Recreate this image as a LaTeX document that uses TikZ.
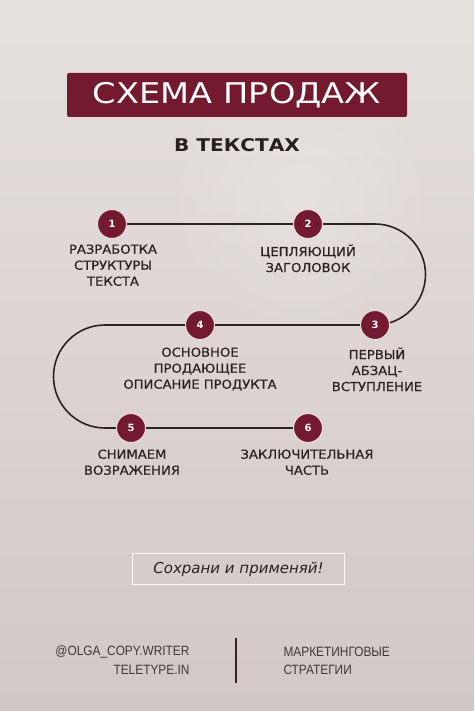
\documentclass[tikz,border=0pt]{standalone}
\usepackage{fontspec}
\setmainfont{DejaVu Sans}
\newfontfamily\titlefont[FakeStretch=1.18]{DejaVu Sans}
\newfontfamily\subfont[FakeStretch=1.15]{DejaVu Sans}
\newfontfamily\labfont[FakeStretch=1.06,FakeBold=0.6]{DejaVu Sans}
\newfontfamily\footfont[FakeStretch=0.88]{Liberation Sans}
\usetikzlibrary{backgrounds}
\definecolor{maroon}{HTML}{731A2E}
\definecolor{ink}{HTML}{2B2322}
\definecolor{bgtop}{HTML}{E6E1DE}
\definecolor{bgbot}{HTML}{D2C8C5}
\definecolor{rimc}{HTML}{F3DCDD}
\pgfdeclarelayer{bglayer}
\pgfsetlayers{bglayer,background,main}
\tikzset{
  stepcirc/.style={circle,fill=maroon,draw=rimc,line width=1pt,minimum size=29pt,inner sep=0pt,text=white,font=\bfseries\fontsize{10}{10}\selectfont},
  steplabel/.style={align=center,text=ink,font=\labfont\fontsize{12.4}{16}\selectfont,anchor=north},
  pathline/.style={draw=ink,line width=1.6pt},
  footer/.style={text=ink!90,font=\footfont\fontsize{13.5}{18}\selectfont}
}
\begin{document}
\begin{tikzpicture}[x=1pt,y=-1pt]
\begin{pgfonlayer}{bglayer}
\shade[top color=bgtop,bottom color=bgbot] (0,0) rectangle (474,711);
\shade[inner color=white,outer color=bgtop,opacity=0.18] (300,200) circle (120);
\end{pgfonlayer}
\useasboundingbox (0,0) rectangle (474,711);
% title
\node[fill=maroon,rounded corners=2pt,minimum width=340pt,minimum height=44pt,text=white,font=\titlefont\fontsize{28.5}{30}\selectfont] (title) at (237,95) {СХЕМА ПРОДАЖ};
\node[text=ink!90!black,font=\subfont\bfseries\fontsize{17.5}{20}\selectfont] (sub) at (237,145) {В ТЕКСТАХ};
% steps
\node[stepcirc] (c1) at (112,224) {1};
\node[stepcirc] (c2) at (308,224) {2};
\node[stepcirc] (c3) at (375,325) {3};
\node[stepcirc] (c4) at (200,325) {4};
\node[stepcirc] (c5) at (131,428) {5};
\node[stepcirc] (c6) at (308,428) {6};
\coordinate (r1) at (375,224);
\coordinate (l1) at (105,325);
\begin{pgfonlayer}{background}
\draw[pathline] (c1) -- (c2) -- (r1) arc[start angle=-90,end angle=90,radius=50.5];
\draw[pathline] (c3) -- (c4) -- (l1) arc[start angle=-90,end angle=-270,radius=51.5] -- (c5) -- (c6);
\end{pgfonlayer}
% labels
\node[steplabel] (t1) at (113,241) {РАЗРАБОТКА\\СТРУКТУРЫ\\ТЕКСТА};
\node[steplabel] (t2) at (308,241) {ЦЕПЛЯЮЩИЙ\\ЗАГОЛОВОК};
\node[steplabel] (t3) at (377,344) {ПЕРВЫЙ\\АБЗАЦ-\\ВСТУПЛЕНИЕ};
\node[steplabel] (t4) at (200,344) {ОСНОВНОЕ\\ПРОДАЮЩЕЕ\\ОПИСАНИЕ ПРОДУКТА};
\node[steplabel] (t5) at (132,446) {СНИМАЕМ\\ВОЗРАЖЕНИЯ};
\node[steplabel] (t6) at (307,446) {ЗАКЛЮЧИТЕЛЬНАЯ\\ЧАСТЬ};
% save box
\node[draw=white!92!bgbot,line width=1.8pt,minimum width=212pt,minimum height=31pt,text=ink,font=\itshape\fontsize{15}{16}\selectfont] (save) at (238.5,569) {Сохрани и применяй!};
% footer
\node[footer,anchor=east] (f1) at (193,652) {@OLGA\_COPY.WRITER};
\node[footer,anchor=east] (f2) at (193,670) {TELETYPE.IN};
\coordinate (v1) at (236,638);
\coordinate (v2) at (236,683);
\draw[draw=ink!80!maroon,line width=1.5pt] (v1) -- (v2);
\node[footer,anchor=west] (f3) at (280,652) {МАРКЕТИНГОВЫЕ};
\node[footer,anchor=west] (f4) at (280,670) {СТРАТЕГИИ};
\end{tikzpicture}
\end{document}
